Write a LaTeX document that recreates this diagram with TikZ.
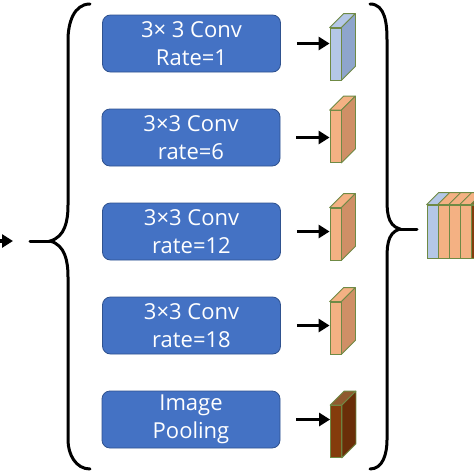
\documentclass[tikz,border=0pt]{standalone}
\usepackage{fontspec}
\setmainfont{Open Sans}
\usetikzlibrary{arrows.meta,calc}
\definecolor{boxblue}{HTML}{4472C4}
\definecolor{boxedge}{HTML}{2F528F}
\definecolor{slabedge}{HTML}{6F8A45}
\definecolor{bluefront}{HTML}{B4C7E7}
\definecolor{blueside}{HTML}{8EA5CC}
\definecolor{orfront}{HTML}{F4B183}
\definecolor{orside}{HTML}{CF8F66}
\definecolor{brfront}{HTML}{843C0C}
\definecolor{brside}{HTML}{6A2E08}
\definecolor{brtop}{HTML}{8F5A2E}
\tikzset{
  convbox/.style={draw=boxedge, line width=0.8pt, fill=boxblue, rounded corners=8pt,
    minimum width=178pt, minimum height=57pt, inner sep=0pt, text=white,
    align=center, font=\fontsize{22}{28}\selectfont},
  slab/.style={draw=slabedge, line width=0.8pt, minimum width=11pt, minimum height=52pt, inner sep=0pt},
  arr/.style={line width=3.5pt, -{Triangle[length=11pt,width=13pt]}},
  brace/.style={line width=3pt, line cap=round}
}
\newcommand{\slabfaces}[4]{% node, side color, top color, depth
  \fill[#3, draw=slabedge, line width=0.8pt, line join=round]
    (#1.north west) -- ++(#4,-#4) -- ($(#1.north east)+(#4,-#4)$) -- (#1.north east) -- cycle;
  \fill[#2, draw=slabedge, line width=0.8pt, line join=round]
    (#1.north east) -- ++(#4,-#4) -- ($(#1.south east)+(#4,-#4)$) -- (#1.south east) -- cycle;
}
\begin{document}
\begin{tikzpicture}[x=1pt,y=-1pt]
\useasboundingbox (0,0) rectangle (474,474);
\fill[white] (0,0) rectangle (474,474);

% conv boxes
\node[convbox] (b1) at (191.5,43.5) {3× 3 Conv\\Rate=1};
\node[convbox] (b2) at (191,137.5) {3×3 Conv\\rate=6};
\node[convbox] (b3) at (191.5,231.5) {3×3 Conv\\rate=12};
\node[convbox] (b4) at (191.5,325.5) {3×3 Conv\\rate=18};
\node[convbox] (b5) at (191,419.5) {Image\\Pooling};

% slabs
\node[slab, fill=bluefront] (s1) at (335.5,54) {};
\slabfaces{s1}{blueside}{bluefront}{14}
\node[slab, fill=orfront] (s2) at (335.5,136.5) {};
\slabfaces{s2}{orside}{orfront}{14}
\node[slab, fill=orfront] (s3) at (335.5,234) {};
\slabfaces{s3}{orside}{orfront}{14}
\node[slab, fill=orfront] (s4) at (335.5,328) {};
\slabfaces{s4}{orside}{orfront}{14}
\node[slab, fill=brfront] (s5) at (336,431.5) {};
\slabfaces{s5}{brside}{brtop}{14}

% arrows
\foreach \i in {1,...,5}{
  \draw[arr] ([xshift=16pt]b\i.east) -- (s\i.west |- b\i.east);
}

% concatenated stack
\node[slab, fill=bluefront, minimum height=53pt] (c1) at (432.5,231.5) {};
\slabfaces{c1}{blueside}{bluefront}{12}
\node[slab, fill=orfront, minimum height=53pt] (c2) at (443.5,231.5) {};
\slabfaces{c2}{orside}{orfront}{12}
\node[slab, fill=orfront, minimum height=53pt] (c3) at (454.5,231.5) {};
\slabfaces{c3}{orside}{orfront}{12}
\node[slab, fill=orfront, minimum height=53pt] (c4) at (465.5,231.5) {};
\slabfaces{c4}{orside}{orfront}{12}
\node[slab, fill=brfront, minimum height=53pt] (c5) at (476.5,231.5) {};
\slabfaces{c5}{brside}{brtop}{12}

% left brace
\coordinate (ltip) at (50,241);
\coordinate (lin) at (30,241);
\draw[brace] (90,4) to[out=180,in=90] (68,40) -- (68,205) to[out=-90,in=15] (ltip)
             to[out=-15,in=90] (68,277) -- (68,440) to[out=-90,in=180] (90,469);
\draw[brace] (lin) -- (ltip);

% input arrow
\coordinate (src) at (-30,241);
\coordinate (dst) at (13,241);
\draw[arr] (src) -- (dst);

% right brace
\coordinate (rtip) at (400,229);
\coordinate (rout) at (417,229);
\draw[brace] (370,4) to[out=0,in=90] (387,40) -- (387,195) to[out=-90,in=165] (rtip)
             to[out=195,in=90] (387,263) -- (387,440) to[out=-90,in=0] (370,469);
\draw[brace] (rtip) -- (rout);
\end{tikzpicture}
\end{document}
